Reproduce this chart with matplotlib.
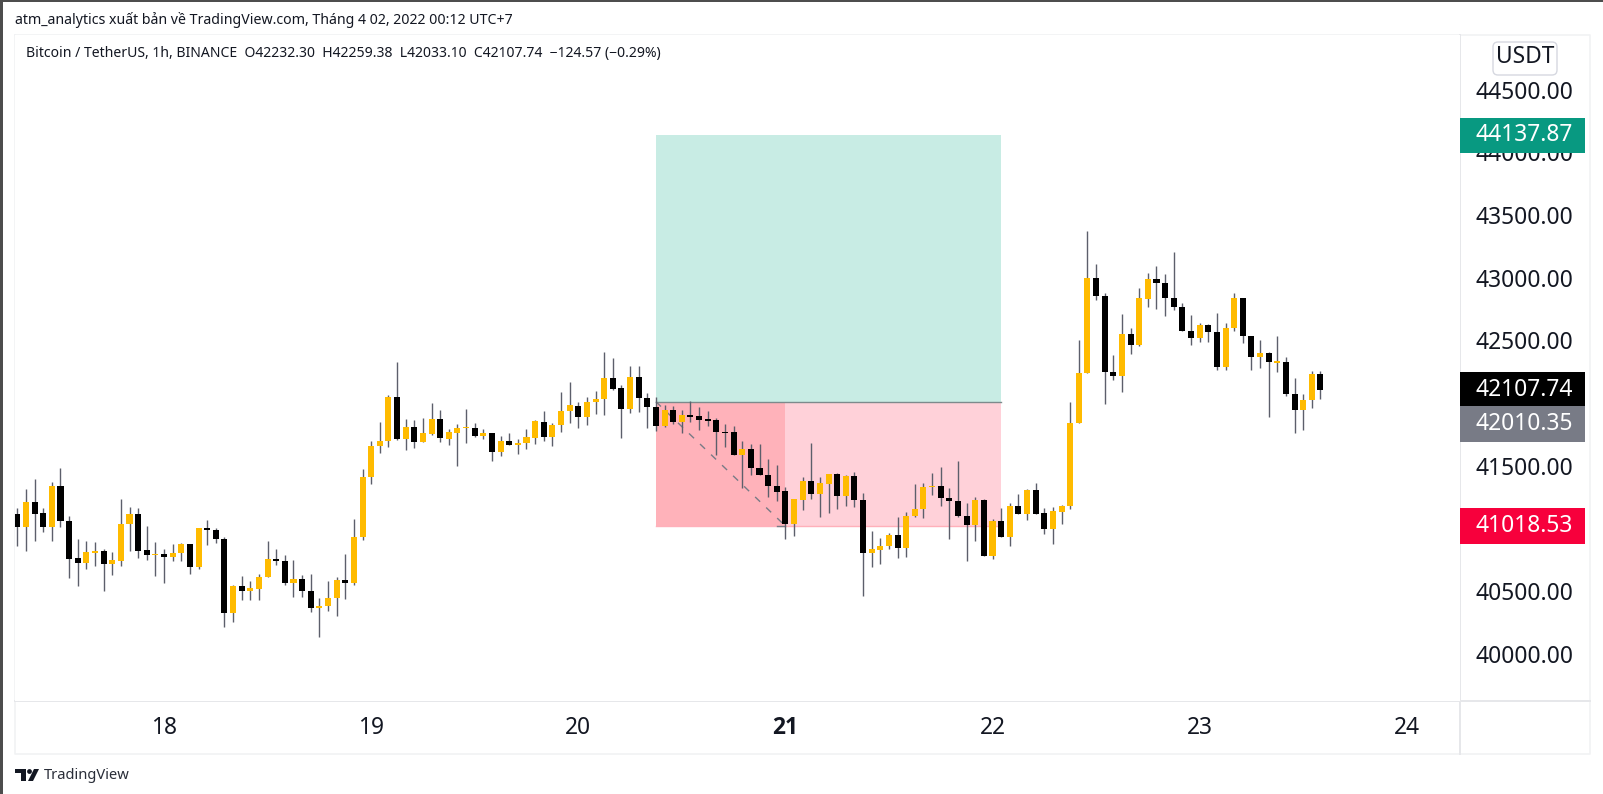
import numpy as np
import matplotlib.pyplot as plt
from matplotlib.patches import Rectangle, Polygon, Circle, FancyBboxPatch

plt.rcParams['font.family'] = ['Noto Sans', 'DejaVu Sans']

# --- candles, 1h bars ---
opens = [41117, 41008, 41213, 41122, 41008, 41341, 41061, 40762, 40722, 40805, 40818, 40719, 40743, 41034, 41117, 40823,
         40789, 40799, 40770, 40802, 40874, 40690, 40999, 40989, 40917, 40327, 40540, 40503, 40519, 40610, 40754, 40741,
         40567, 40597, 40500, 40364, 40383, 40442, 40589, 40562, 40928, 41408, 41659, 41694, 42049, 41715, 41806, 41691,
         41755, 41870, 41715, 41763, 41798, 41803, 41736, 41760, 41608, 41699, 41667, 41677, 41723, 41851, 41731, 41824,
         41936, 41979, 41888, 42008, 42032, 42198, 42118, 41955, 42206, 42043, 41968, 41814, 41942, 41848, 41904, 41899,
         41870, 41867, 41768, 41766, 41584, 41635, 41485, 41427, 41339, 41296, 41032, 41227, 41379, 41275, 41357, 41437,
         41259, 41419, 41227, 40802, 40829, 40858, 40944, 40840, 41096, 41152, 41328, 41336, 41243, 41221, 41101, 41029,
         41224, 40781, 41056, 40930, 41179, 41117, 41307, 41120, 40994, 41130, 41178, 41840, 42241, 42996, 42855, 42249,
         42219, 42553, 42465, 42833, 42991, 42956, 42836, 42766, 42577, 42516, 42620, 42566, 42289, 42596, 42841, 42532,
         42366, 42403, 42323, 42331, 42075, 41947, 42024, 42232.30]
highs = [41165, 41312, 41392, 41165, 41373, 41480, 41098, 40917, 40898, 40888, 40834, 40810, 41232, 41168, 41165, 41018,
         40888, 40831, 40871, 40885, 40874, 40999, 41066, 40999, 40927, 40546, 40623, 40578, 40634, 40895, 40837, 40791,
         40746, 40629, 40634, 40442, 40581, 40610, 40799, 41072, 41472, 41696, 41851, 42067, 42329, 41875, 41867, 41880,
         42003, 41944, 41792, 41832, 41950, 41838, 41795, 41760, 41739, 41760, 41715, 41795, 41862, 41936, 41840, 42091,
         42169, 42006, 42049, 42097, 42404, 42363, 42147, 42299, 42299, 42081, 42049, 41982, 41974, 41942, 42014, 41969,
         41936, 41880, 41835, 41819, 41699, 41675, 41675, 41555, 41507, 41333, 41237, 41408, 41680, 41408, 41437, 41443,
         41424, 41451, 41280, 40978, 40920, 40965, 41088, 41133, 41355, 41360, 41440, 41491, 41320, 41541, 41200, 41248,
         41237, 41072, 41160, 41200, 41272, 41315, 41365, 41160, 41173, 41186, 42011, 42505, 43372, 43108, 42879, 42387,
         42708, 42601, 42921, 43041, 43092, 43028, 43207, 42796, 42705, 42636, 42630, 42718, 42636, 42881, 42841, 42534,
         42500, 42406, 42532, 42369, 42201, 42070, 42259, 42259.38]
lows = [40858, 40821, 40901, 40973, 40901, 41008, 40607, 40540, 40677, 40698, 40500, 40631, 40701, 40821, 40762, 40746,
        40621, 40565, 40741, 40741, 40639, 40677, 40863, 40885, 40212, 40255, 40431, 40426, 40431, 40610, 40709, 40551,
        40450, 40450, 40332, 40132, 40343, 40300, 40439, 40546, 40906, 41355, 41600, 41646, 41707, 41627, 41637, 41688,
        41747, 41691, 41664, 41501, 41677, 41728, 41712, 41536, 41581, 41662, 41595, 41632, 41672, 41694, 41659, 41766,
        41843, 41803, 41827, 41915, 41902, 42102, 41720, 41918, 41931, 41800, 41776, 41808, 41835, 41758, 41848, 41782,
        41814, 41582, 41648, 41584, 41320, 41429, 41424, 41253, 41221, 40914, 40938, 41146, 41235, 41093, 41125, 41157,
        41176, 41171, 40463, 40693, 40714, 40832, 40765, 40773, 41093, 41082, 41267, 41179, 40917, 41093, 40738, 40898,
        40781, 40754, 40930, 40861, 41117, 41064, 41117, 40952, 40874, 41034, 41157, 41840, 42241, 42822, 41996, 42182,
        42091, 42395, 42454, 42769, 42753, 42692, 42740, 42572, 42462, 42486, 42489, 42267, 42267, 42574, 42478, 42267,
        42283, 41886, 42251, 42054, 41758, 41782, 41958, 42033.10]
closes = [41008, 41213, 41117, 41008, 41341, 41058, 40757, 40722, 40810, 40818, 40719, 40746, 41034, 41117, 40818, 40789,
          40799, 40770, 40802, 40874, 40690, 40999, 40986, 40914, 40327, 40540, 40503, 40522, 40613, 40754, 40738, 40567,
          40599, 40500, 40364, 40383, 40442, 40589, 40562, 40930, 41408, 41659, 41694, 42049, 41715, 41806, 41691, 41758,
          41870, 41718, 41768, 41800, 41803, 41736, 41760, 41611, 41699, 41667, 41683, 41726, 41854, 41731, 41827, 41939,
          41982, 41888, 42011, 42035, 42198, 42115, 41955, 42206, 42040, 41966, 41814, 41944, 41846, 41902, 41891, 41864,
          41859, 41766, 41758, 41584, 41635, 41483, 41424, 41336, 41293, 41032, 41232, 41379, 41275, 41360, 41437, 41259,
          41419, 41227, 40802, 40834, 40861, 40944, 40840, 41101, 41154, 41331, 41339, 41240, 41221, 41096, 41029, 41224,
          40781, 41056, 40930, 41179, 41117, 41307, 41117, 40994, 41136, 41181, 41843, 42241, 42996, 42852, 42246, 42219,
          42553, 42465, 42836, 42991, 42956, 42836, 42764, 42574, 42516, 42620, 42566, 42289, 42596, 42841, 42532, 42366,
          42403, 42326, 42331, 42073, 41947, 42024, 42235, 42107.74]

# long position tool
entry_price = 42010.35
target_price = 44137.87
stop_price = 41018.53
entry_bar = 74
exit_bar = 89
end_bar = 114

day_bars = [17, 41, 65, 89, 113, 137, 161]
day_labels = ['18', '19', '20', '21', '22', '23', '24']
# 41000 and 42000 sit fully behind the price tags in the picture
price_ticks = [40000, 40500, 41500, 42500, 43000, 43500, 44000, 44500]

# price, colour, shift of the tag on the scale
tag_prices = [target_price, closes[-1], entry_price, stop_price]
tag_colors = ['#089981', '#000000', '#787b86', '#f7003c']
tag_shifts = [0, 0, -178, 0]

W, H = 1603, 794
UP = '#ffbb00'
DOWN = '#000000'
WICK = '#5c5f6b'
LINE = '#e6e7ea'
FS = 16.4

fig = plt.figure(figsize=(W / 100, H / 100), dpi=100, facecolor='white')

# page furniture, in pixels
bg = fig.add_axes([0, 0, 1, 1], zorder=0)
bg.set_xlim(0, W)
bg.set_ylim(H, 0)
bg.axis('off')
bg.add_patch(Rectangle((0, 0), 3, H, color='#4d4d4d', lw=0))
bg.add_patch(Rectangle((0, 0), W, 2, color='#4d4d4d', lw=0))
bg.plot([15, 1590, 1590, 15, 15], [35, 35, 754, 754, 35], color='#f1f2f4', lw=1.2)
bg.plot([1460, 1460], [35, 754], color=LINE, lw=1.4)
bg.plot([15, 1590], [701, 701], color=LINE, lw=1.4)
bg.text(15, 20, 'atm_analytics xuất bản về TradingView.com, Tháng 4 02, 2022 00:12 UTC+7',
        fontsize=10.2, color='#131722', va='center')
bg.add_patch(FancyBboxPatch((1493, 42), 64, 33, boxstyle='round,pad=0,rounding_size=5',
                            fc='white', ec='#d6d8e0', lw=1))
bg.text(1525, 57, 'USDT', fontsize=FS, color='#131722', ha='center', va='center')

# logo
bg.add_patch(Polygon([(15, 769), (26, 769), (26, 781), (21, 781), (21, 773), (15, 773)], color='#131722', lw=0))
bg.add_patch(Circle((29.5, 771.5), 2.4, color='#131722', lw=0))
bg.add_patch(Polygon([(34, 769), (39, 769), (33, 781), (28, 781)], color='#131722', lw=0))
bg.text(44, 775.5, 'TradingView', fontsize=10.6, color='#2a2e39', va='center')

# --- price pane ---
ax = fig.add_axes([15 / W, 1 - 701 / H, 1445 / W, 666 / H], zorder=1)
ax.set_xlim(-0.27, 167.17)
ax.set_ylim(39622, 44936.7)
for s in ax.spines.values():
    s.set_visible(False)

ax.text(10.5 / 1445, 1 - 18.5 / 666,
        'Bitcoin / TetherUS, 1h, BINANCE  O42232.30  H42259.38  L42033.10  C42107.74  −124.57 (−0.29%)',
        transform=ax.transAxes, fontsize=10.08, color='#131722', va='center')

# position box
ax.fill_between([entry_bar, end_bar], entry_price, target_price, color='#c8ece4', lw=0, zorder=1)
ax.fill_between([entry_bar, end_bar], stop_price, entry_price, color='#ffd1d9', lw=0, zorder=1)
ax.fill_between([entry_bar, exit_bar], stop_price, entry_price, color='#ffb2ba', lw=0, zorder=1.1)
ax.plot([entry_bar, end_bar], [entry_price, entry_price], color='#7d8a8c', lw=1, zorder=1.2)
ax.plot([entry_bar, end_bar], [stop_price, stop_price], color='#ffb0ba', lw=1, zorder=1.2)
ax.plot([entry_bar, exit_bar], [entry_price, stop_price], color='#787b86', lw=1, ls=(0, (5, 6)), zorder=1.3)
ax.plot([exit_bar - 1, exit_bar], [stop_price, stop_price], color='#787b86', lw=1, zorder=1.3)

# candles
bars = np.arange(len(opens))
o = np.array(opens)
c = np.array(closes)
colors = [UP if cl >= op else DOWN for op, cl in zip(o, c)]
ax.vlines(bars, lows, highs, color=WICK, lw=1, zorder=2)
ax.bar(bars, np.maximum(np.abs(c - o), 10), bottom=np.minimum(o, c), width=0.7, color=colors, lw=0, zorder=3)

# axes text
ax.yaxis.tick_right()
ax.set_yticks(price_ticks)
ax.set_yticklabels([f'{p:.2f}' for p in price_ticks], color='#131722', fontsize=FS)
ax.set_xticks(day_bars)
ax.set_xticklabels(day_labels, color='#131722', fontsize=FS)
bold = ax.get_xticklabels()[day_labels.index('21')]
bold.set_fontfamily('Open Sans')
bold.set_fontweight('bold')
ax.tick_params(axis='y', length=0, pad=11.5)
ax.tick_params(axis='x', length=0, pad=11)

# price tags on the scale
tr = ax.get_yaxis_transform()
for price, col, shift in zip(tag_prices, tag_colors, tag_shifts):
    ax.add_patch(Rectangle((1, price + shift - 140), 125 / 1445, 280, transform=tr, fc=col, lw=0,
                           clip_on=False, zorder=5))
    ax.text(1 + 16 / 1445, price + shift, f'{price:.2f}', transform=tr, color='white', fontsize=FS,
            va='center', clip_on=False, zorder=6)

fig.savefig('out.png', dpi=100)
